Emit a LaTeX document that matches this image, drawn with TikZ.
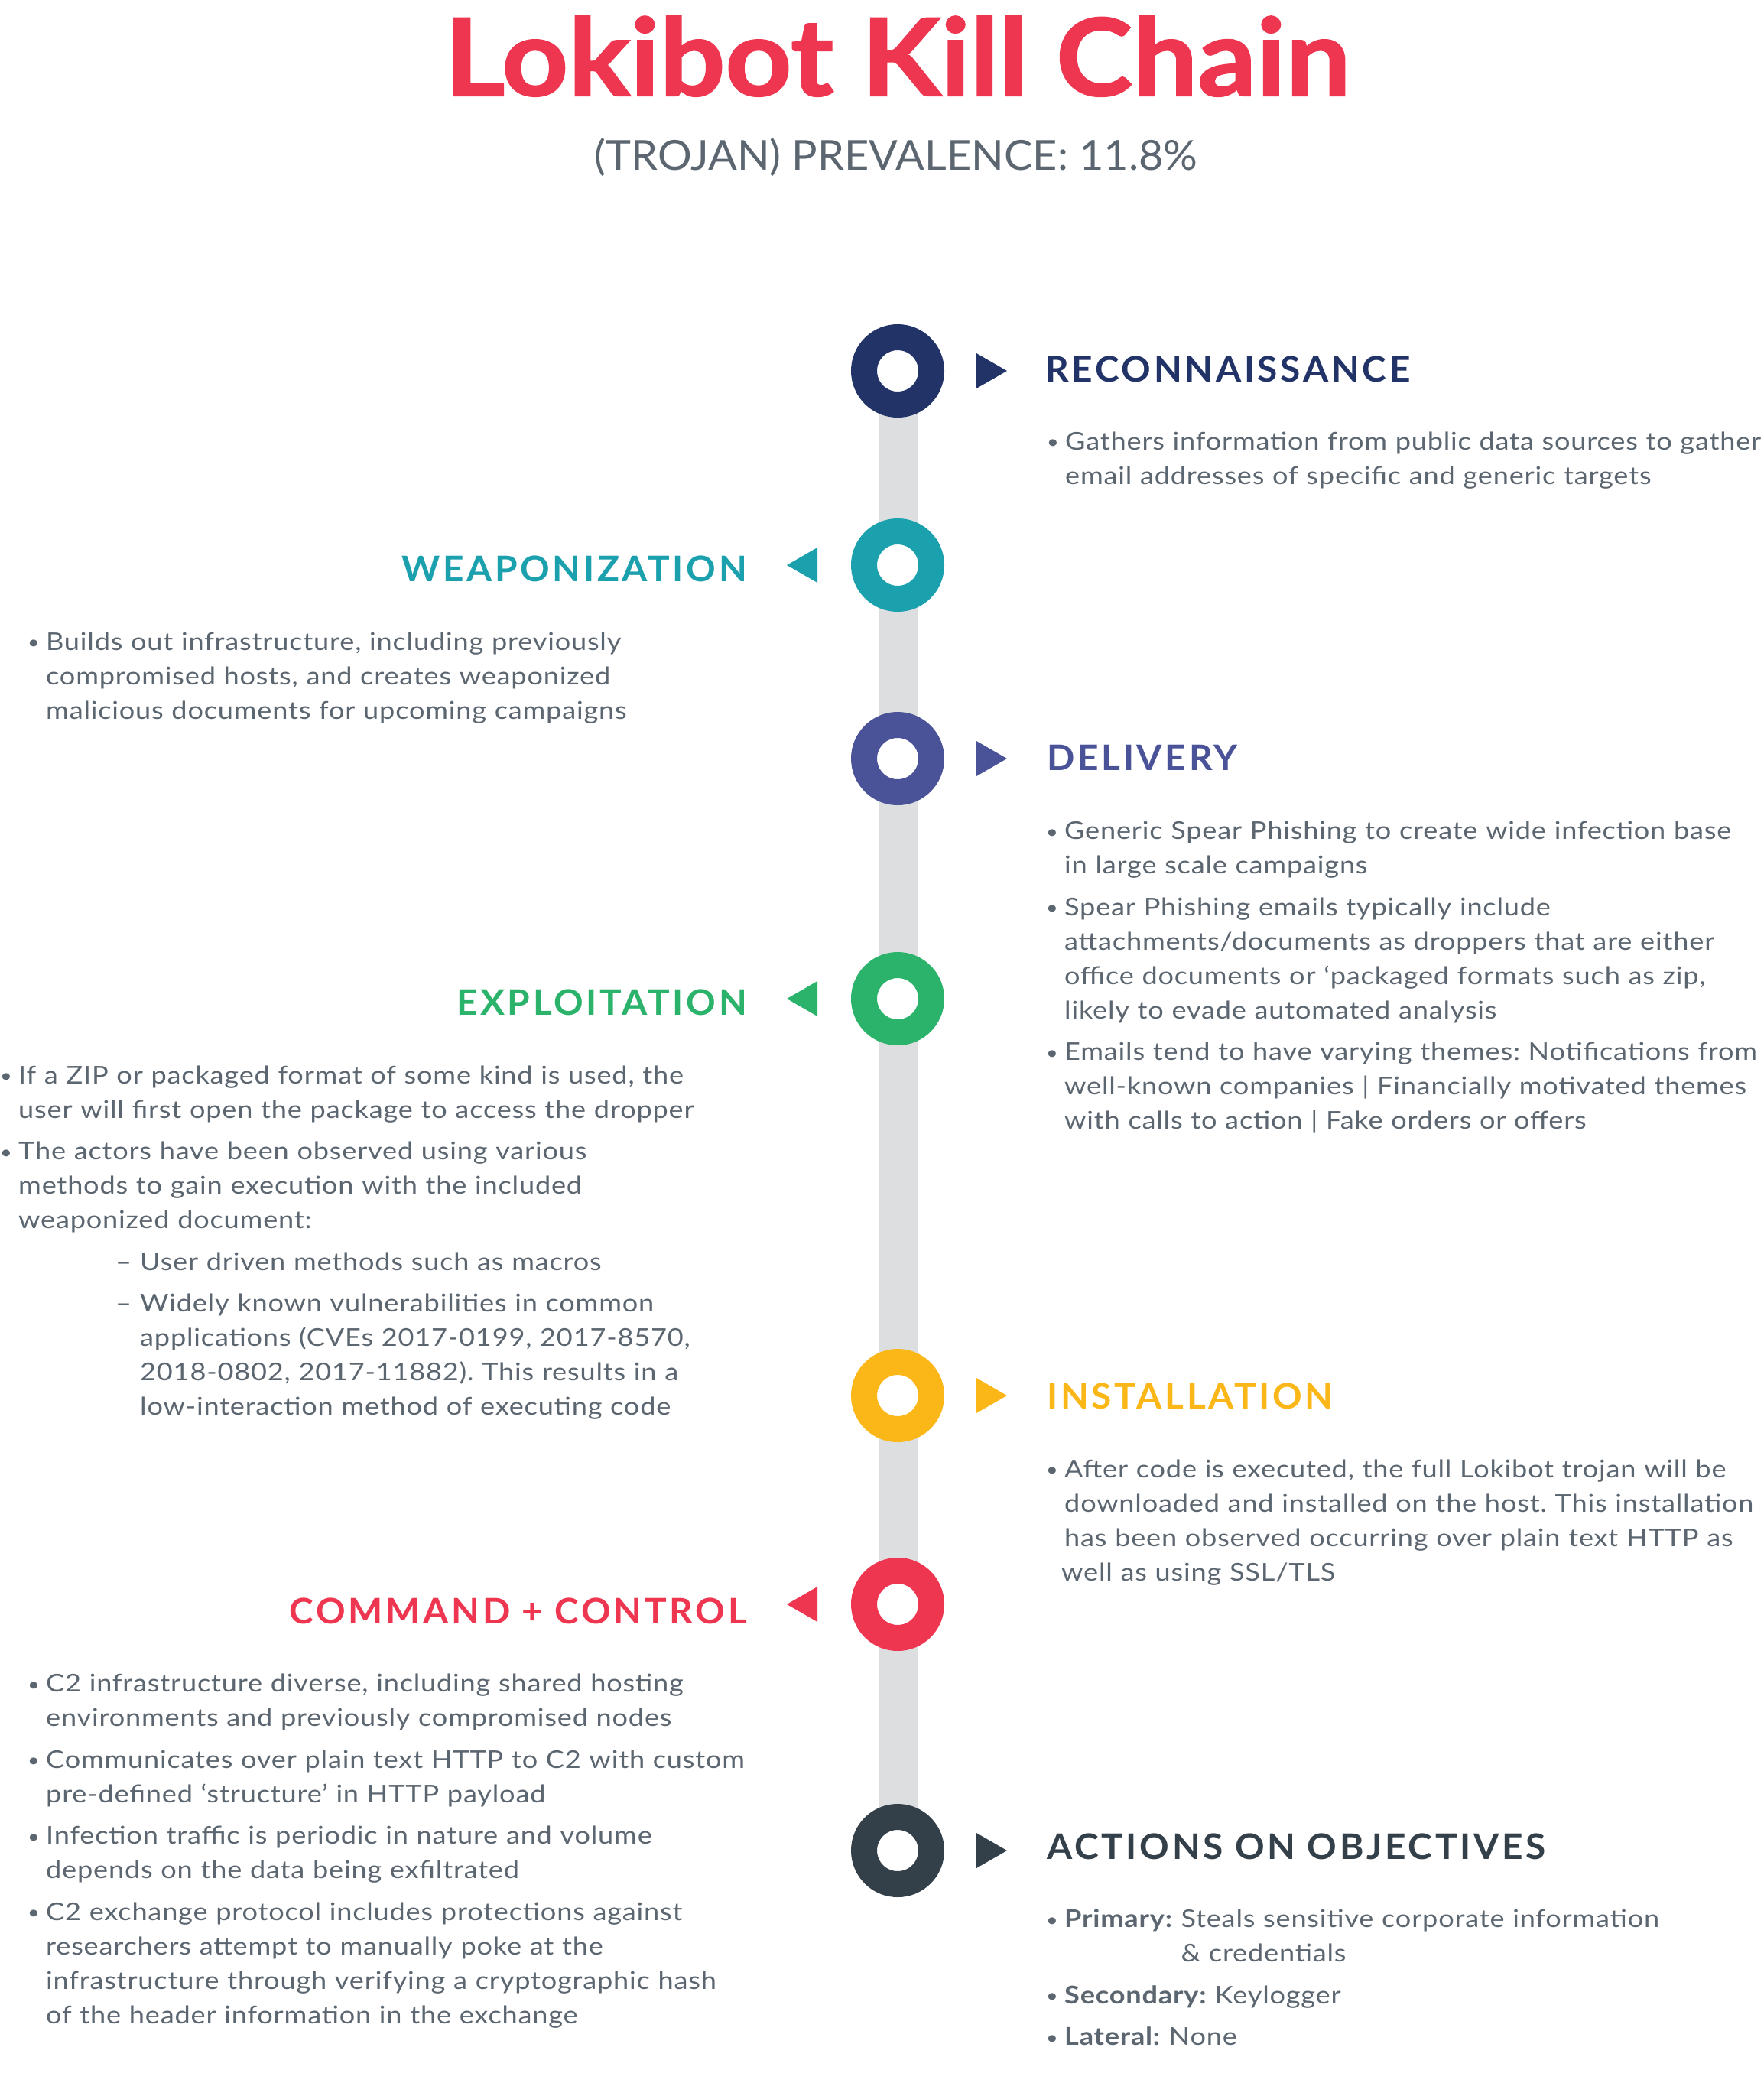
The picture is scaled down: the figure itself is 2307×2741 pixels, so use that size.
\documentclass[tikz,border=0pt]{standalone}
\usepackage{fontspec}
\usepackage{graphicx}
\setmainfont{Lato}[FakeStretch=1.13, LetterSpace=2.5]
\newfontfamily\headfont{Lato}[FakeStretch=1.04, LetterSpace=8]
\newfontfamily\titlefont{Lato}[FakeStretch=1.08, FakeBold=1.5]
\newfontfamily\subfont{Lato}[FakeStretch=1.035]
\frenchspacing
\definecolor{titlered}{HTML}{EE3650}
\definecolor{navy}{HTML}{223368}
\definecolor{teal}{HTML}{1BA0AE}
\definecolor{indigo}{HTML}{4A5298}
\definecolor{green}{HTML}{2BB36B}
\definecolor{amber}{HTML}{FBB617}
\definecolor{slate}{HTML}{333F49}
\definecolor{bodygray}{HTML}{5C6670}
\definecolor{trackgray}{HTML}{DDDEE0}
\newcommand\nl{\unskip\nobreak\hfil\break}
\newcommand\bul{\makebox[24pt][l]{\fontsize{24}{24}\selectfont\raisebox{1.5pt}{\textbullet}}}
\newcommand\bitem[1]{\hangindent=24pt\hangafter=1\noindent\bul#1\par}
\newcommand\ditem[1]{\hangindent=183pt\hangafter=1\noindent\hspace*{151pt}\makebox[32pt][l]{\textendash}#1\par}
\newcommand\pitem[2]{\setbox0=\hbox{\bul\textbf{#1}\ }\hangindent=\wd0\hangafter=1\noindent\box0 #2\par}
\begin{document}
\begin{tikzpicture}[x=1pt,y=-1pt,
  ring/.style={circle, draw=#1, line width=34pt, minimum size=88pt, inner sep=0pt, fill=white},
  head/.style={font=\headfont\bfseries\fontsize{46}{50}\selectfont, text=#1, inner sep=0pt},
  body/.style={font=\frenchspacing\fontsize{32}{45}\selectfont, text=bodygray, text width=1200pt, align=left, inner sep=0pt, anchor=base west},
  track/.style={draw=trackgray, line width=51pt}]
\useasboundingbox (0,0) rectangle (2307,2741);
\fill[white] (0,0) rectangle (2307,2741);
% title
\node[font=\titlefont\bfseries\fontsize{140}{150}\selectfont, text=titlered, anchor=base, inner sep=0pt] (title) at (1174,125) {Lokibot Kill Chain};
\node[font=\subfont\fontsize{54}{60}\selectfont, text=bodygray, anchor=base, inner sep=0pt] (sub) at (1172,222) {(TROJAN) PREVALENCE: 11.8\%};
% stage positions
\coordinate (p1) at (1174,485);
\coordinate (p2) at (1174,739);
\coordinate (p3) at (1174,992);
\coordinate (p4) at (1174,1306);
\coordinate (p5) at (1174,1825);
\coordinate (p6) at (1174,2098);
\coordinate (p7) at (1174,2420);
\draw[track] (p1) -- (p7);
\node[ring=navy] (c1) at (p1) {};
\node[ring=teal] (c2) at (p2) {};
\node[ring=indigo] (c3) at (p3) {};
\node[ring=green] (c4) at (p4) {};
\node[ring=amber] (c5) at (p5) {};
\node[ring=titlered] (c6) at (p6) {};
\node[ring=slate] (c7) at (p7) {};
% pointers
\fill[navy, shift={(p1)}] (103,-23) -- (143,0) -- (103,23) -- cycle;
\fill[teal, shift={(p2)}] (-105,-23) -- (-145,0) -- (-105,23) -- cycle;
\fill[indigo, shift={(p3)}] (103,-23) -- (143,0) -- (103,23) -- cycle;
\fill[green, shift={(p4)}] (-105,-23) -- (-145,0) -- (-105,23) -- cycle;
\fill[amber, shift={(p5)}] (103,-23) -- (143,0) -- (103,23) -- cycle;
\fill[titlered, shift={(p6)}] (-105,-23) -- (-145,0) -- (-105,23) -- cycle;
\fill[slate, shift={(p7)}] (103,-23) -- (143,0) -- (103,23) -- cycle;
% headings
\node[head=navy, anchor=base west] (h1) at (1367,499) {RECONNAISSANCE};
\node[head=teal, anchor=base east] (h2) at (977,760) {WEAPONIZATION};
\node[head=indigo, anchor=base west] (h3) at (1369,1007) {DELIVERY};
\node[head=green, anchor=base east] (h4) at (977,1327) {EXPLOITATION};
\node[head=amber, anchor=base west] (h5) at (1369,1842) {INSTALLATION};
\node[head=titlered, anchor=base east] (h6) at (977,2123) {COMMAND + CONTROL};
\node[head=slate, anchor=base west] (h7) at (1369,2431) {ACTIONS ON OBJECTIVES};
% bodies
\node[body] (b1) at (1369,588) {\bitem{Gathers information from public data sources to gather\nl email addresses of specific and generic targets}};
\node[body] (b2) at (36,850) {\bitem{Builds out infrastructure, including previously\nl compromised hosts, and creates weaponized\nl malicious documents for upcoming campaigns}};
\node[body] (b3) at (1368,1097.5) {\setlength\parskip{9.5pt}%
\bitem{Generic Spear Phishing to create wide infection base\nl in large scale campaigns}%
\bitem{Spear Phishing emails typically include\nl attachments/documents as droppers that are either\nl office documents or ‘packaged formats such as zip,\nl likely to evade automated analysis}%
\bitem{Emails tend to have varying themes: Notifications from\nl well-known companies | Financially motivated themes\nl with calls to action | Fake orders or offers}};
\node[body] (b4) at (0,1417) {\setlength\parskip{9.5pt}%
\bitem{If a ZIP or packaged format of some kind is used, the\nl user will first open the package to access the dropper}%
\bitem{The actors have been observed using various\nl methods to gain execution with the included\nl weaponized document:}%
\ditem{User driven methods such as macros}%
\ditem{Widely known vulnerabilities in common\nl applications (CVEs 2017-0199, 2017-8570,\nl 2018-0802, 2017-11882). This results in a\nl low-interaction method of executing code}};
\node[body] (b5) at (1368,1932) {\bitem{After code is executed, the full Lokibot trojan will be\nl downloaded and installed on the host. This installation\nl has been observed occurring over plain text HTTP as\nl \hspace*{-4pt}well as using SSL/TLS}};
\node[body] (b6) at (36,2212.6) {\setlength\parskip{9.5pt}%
\bitem{C2 infrastructure diverse, including shared hosting\nl environments and previously compromised nodes}%
\bitem{Communicates over plain text HTTP to C2 with custom\nl pre-defined ‘structure’ in HTTP payload}%
\bitem{Infection traffic is periodic in nature and volume\nl depends on the data being exfiltrated}%
\bitem{C2 exchange protocol includes protections against\nl researchers attempt to manually poke at the\nl infrastructure through verifying a cryptographic hash\nl of the header information in the exchange}};
\node[body] (b7) at (1368,2520.7) {\setlength\parskip{9.5pt}%
\pitem{Primary:}{Steals sensitive corporate information\nl \& credentials}%
\pitem{Secondary:}{Keylogger}%
\pitem{Lateral:}{None}};
\end{tikzpicture}
\end{document}
